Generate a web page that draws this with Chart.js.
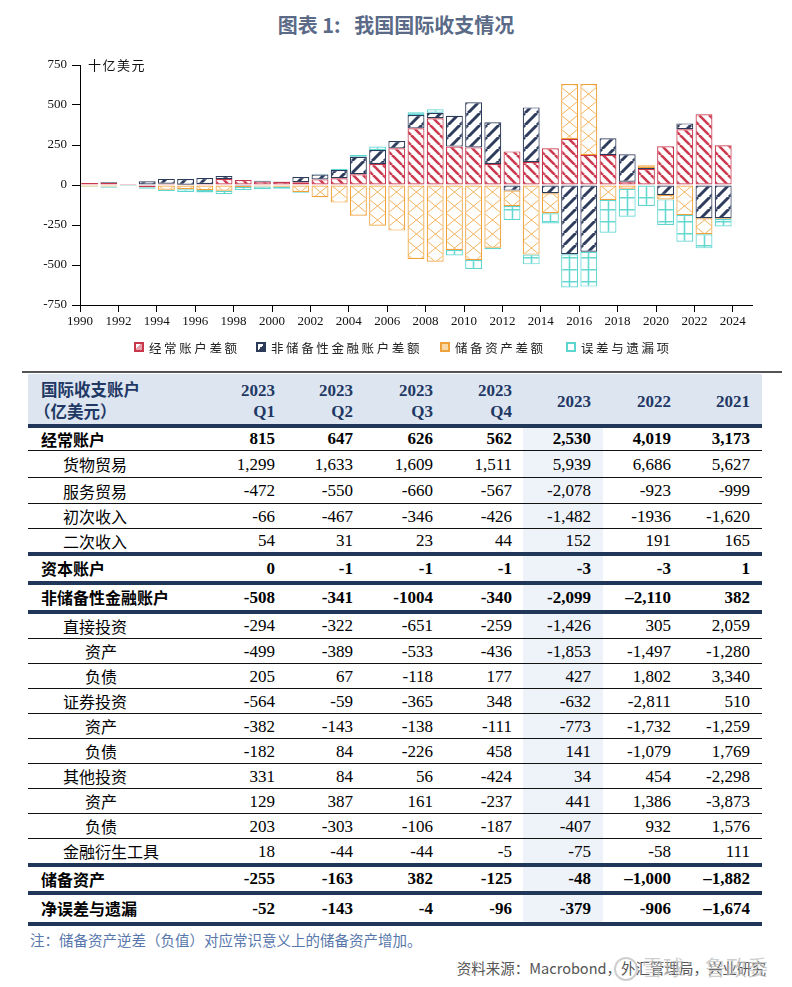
<!DOCTYPE html>
<html>
<head>
<meta charset="utf-8">
<script src="https://cdn.jsdelivr.net/npm/chart.js@4.4.1/dist/chart.umd.min.js"></script>
<style>
  html,body{margin:0;padding:0;background:#fff;}
  body{width:792px;height:987px;position:relative;overflow:hidden;font-family:"Noto Sans CJK SC",sans-serif;}
  #title{position:absolute;left:0;top:11px;width:792px;text-align:center;font-size:20px;line-height:28px;font-weight:bold;color:#5A6A87;white-space:pre;}
  #chartBox{position:absolute;left:0;top:50px;width:792px;height:290px;}
  #unit{position:absolute;left:88px;top:56px;font-size:13px;line-height:18px;letter-spacing:1.5px;color:#111;}
  .lg{position:absolute;top:339px;height:16px;display:flex;align-items:center;font-size:12.5px;letter-spacing:2.6px;color:#222;white-space:nowrap;}
  .lg i{display:inline-block;width:6px;height:6px;border:2px solid;margin-right:5px;background:#fff;}
  .abs{position:absolute;}
  .txt{position:absolute;display:flex;align-items:center;white-space:nowrap;line-height:1;}
  .num{font-family:"Liberation Serif","Times New Roman",serif;font-size:17px;color:#000;justify-content:flex-end;}
  .lab{font-family:"Noto Sans CJK SC",sans-serif;font-size:16px;color:#000;}
  .hd{color:#1F3864;font-weight:bold;}
  #note{position:absolute;left:30px;top:930px;font-size:14.5px;line-height:20px;color:#5877AC;white-space:nowrap;}
  #src{position:absolute;right:26px;top:958px;font-size:14.5px;line-height:20px;color:#555;white-space:nowrap;}
  #wm{position:absolute;left:614px;top:952px;font-size:21px;line-height:28px;color:rgba(190,190,190,0.75);white-space:nowrap;}
  #wm b{display:inline-block;width:20px;height:20px;border:2px solid rgba(190,190,190,0.75);border-radius:50%;vertical-align:middle;margin-right:4px;}
</style>
</head>
<body>
<div id="title">图表 1:   我国国际收支情况</div>
<div id="chartBox"><canvas id="c" width="792" height="290"></canvas></div>
<div id="unit">十亿美元</div>
<div id="legend"></div>
<div id="table"></div>
<div id="note">注：储备资产逆差（负值）对应常识意义上的储备资产增加。</div>
<div id="src">资料来源：Macrobond，外汇管理局，兴业研究</div>
<div id="wm"><b></b>雪球：鲁政委</div>
<script>
// ---------------- chart data (billions USD) ----------------
const years = [1990,1991,1992,1993,1994,1995,1996,1997,1998,1999,2000,2001,2002,2003,2004,2005,2006,2007,2008,2009,2010,2011,2012,2013,2014,2015,2016,2017,2018,2019,2020,2021,2022,2023];
const currentAccount   = [12,13,6,-12,8,2,7,37,31,21,20,17,35,42,67,131,229,354,417,240,235,131,210,144,229,288,188,188,21,100,242,348,442,248];
const financialAccount = [-3,4,-2,23,30,35,37,19,-6,5,2,33,30,52,110,88,46,83,35,193,282,261,-35,341,-52,-433,-417,104,171,7,-62,37,-208,-208];
const reserveAssets    = [-6,-10,0,-2,-30,-26,-32,-36,-6,-9,-11,-44,-77,-110,-192,-254,-285,-462,-479,-406,-469,-392,-96,-435,-125,343,443,-94,-23,16,-28,-188,-100,-5];
const errorsOmissions  = [-3,-7,-2,-10,-8,-18,-15,-22,-19,-18,-12,-5,6,8,11,21,0,17,21,-34,-56,-10,-88,-61,-63,-207,-218,-204,-175,-131,-160,-166,-88,-46];
const seriesLabels = ['经常账户差额','非储备性金融账户差额','储备资产差额','误差与遗漏项'];
const xTickYears = [1990,1992,1994,1996,1998,2000,2002,2004,2006,2008,2010,2012,2014,2016,2018,2020,2022,2024];
const yTickValues = [-750,-500,-250,0,250,500,750];

// ---------------- table data (亿美元) ----------------
const tableHeadTop = ['2023','2023','2023','2023','','',''];
const tableHeadBottom = ['Q1','Q2','Q3','Q4','2023','2022','2021'];
const rowLabels = ['经常账户','货物贸易','服务贸易','初次收入','二次收入','资本账户','非储备性金融账户','直接投资','资产','负债','证券投资','资产','负债','其他投资','资产','负债','金融衍生工具','储备资产','净误差与遗漏'];
const rowLevel  = [0,1,1,1,1,0,0,1,2,2,1,2,2,1,2,2,1,0,0];
const rowBold   = [1,0,0,0,0,1,1,0,0,0,0,0,0,0,0,0,0,1,1];
const col2023Q1 = ['815','1,299','-472','-66','54','0','-508','-294','-499','205','-564','-382','-182','331','129','203','18','-255','-52'];
const col2023Q2 = ['647','1,633','-550','-467','31','-1','-341','-322','-389','67','-59','-143','84','84','387','-303','-44','-163','-143'];
const col2023Q3 = ['626','1,609','-660','-346','23','-1','-1004','-651','-533','-118','-365','-138','-226','56','161','-106','-44','382','-4'];
const col2023Q4 = ['562','1,511','-567','-426','44','-1','-340','-259','-436','177','348','-111','458','-424','-237','-187','-5','-125','-96'];
const col2023   = ['2,530','5,939','-2,078','-1,482','152','-3','-2,099','-1,426','-1,853','427','-632','-773','141','34','441','-407','-75','-48','-379'];
const col2022   = ['4,019','6,686','-923','-1936','191','-3','–2,110','305','-1,497','1,802','-2,811','-1,732','-1,079','454','1,386','932','-58','–1,000','-906'];
const col2021   = ['3,173','5,627','-999','-1,620','165','1','382','2,059','-1,280','3,340','510','-1,259','1,769','-2,298','-3,873','1,576','111','–1,882','–1,674'];
const tableColumns = [col2023Q1,col2023Q2,col2023Q3,col2023Q4,col2023,col2022,col2021];

// ---------------- styles ----------------
const RED='#C8364B', NAVY='#2D3B5B', ORANGE='#EFA23C', CYAN='#5ED5CF';

function tile(w,h,draw){
  const c=document.createElement('canvas'); c.width=w; c.height=h;
  const g=c.getContext('2d'); g.fillStyle='#fff'; g.fillRect(0,0,w,h); draw(g,w,h); return c;
}
const redTile = tile(10,10,(g)=>{g.strokeStyle='#CC3A50';g.lineWidth=2.6;for(const o of [-10,0,10]){g.beginPath();g.moveTo(o,0);g.lineTo(o+10,10);g.stroke();}});
const navyTile = tile(12,12,(g)=>{g.strokeStyle='#2E3C5E';g.lineWidth=3;for(const o of [-12,0,12]){g.beginPath();g.moveTo(o,12);g.lineTo(o+12,0);g.stroke();}});
const orangeTile = tile(17,14,(g)=>{g.strokeStyle='#F2B35E';g.lineWidth=1;g.beginPath();g.moveTo(0,0);g.lineTo(17,14);g.moveTo(17,0);g.lineTo(0,14);g.stroke();});
const cyanTile = tile(17,12,(g)=>{g.strokeStyle='#66D8D2';g.lineWidth=1.6;g.beginPath();g.moveTo(8.5,0);g.lineTo(8.5,12);g.moveTo(0,0.8);g.lineTo(17,0.8);g.stroke();});

function barPattern(t, fallback){
  return function(c){
    const ch=c.chart;
    if(c.type!=='data' || !ch.scales || !ch.scales.x || !ch.scales.y) return fallback;
    const px = ch.scales.x.getPixelForValue(c.raw.x) - t.width/2;
    const py = ch.scales.y.getPixelForValue(0);
    const p = ch.ctx.createPattern(t,'repeat');
    p.setTransform(new DOMMatrix().translateSelf(Math.round(px), Math.round(py)));
    return p;
  };
}

const seriesValues=[currentAccount,financialAccount,reserveAssets,errorsOmissions];
const seriesTiles=[redTile,navyTile,orangeTile,cyanTile];
const seriesColors=[RED,NAVY,ORANGE,CYAN];

const datasets = seriesValues.map((vals,k)=>({
  label: seriesLabels[k],
  data: years.map((yr,i)=>({x: yr+0.5, y: vals[i]})),
  backgroundColor: barPattern(seriesTiles[k], seriesColors[k]),
  borderColor: seriesColors[k],
  borderWidth: 1.2,
  borderSkipped: false,
  barPercentage: 0.88,
  categoryPercentage: 1.0
}));

const serif = '"Liberation Serif","Times New Roman",serif';
new Chart(document.getElementById('c'), {
  type:'bar',
  data:{datasets},
  options:{
    responsive:false, animation:false, devicePixelRatio:1,
    layout:{padding:{top:15,right:40,left:0,bottom:0}},
    plugins:{legend:{display:false},tooltip:{enabled:false}},
    scales:{
      x:{type:'linear',min:1990,max:2025,stacked:true,offset:false,
         afterBuildTicks:(s)=>{s.ticks=xTickYears.map(v=>({value:v}));},
         afterFit:(s)=>{s.height=35;},
         ticks:{callback:(v)=>String(v),font:{family:serif,size:13},color:'#111',padding:2,maxRotation:0,autoSkip:false},
         grid:{offset:false,drawOnChartArea:false,drawTicks:true,tickLength:7,tickColor:'#000',color:'#000'},
         border:{display:true,color:'#000',width:1}},
      y:{type:'linear',min:-750,max:750,stacked:true,
         afterBuildTicks:(s)=>{s.ticks=yTickValues.map(v=>({value:v}));},
         afterFit:(s)=>{s.width=80;},
         ticks:{callback:(v)=>String(v),font:{family:serif,size:13},color:'#111',padding:5},
         grid:{drawOnChartArea:false,drawTicks:true,tickLength:8,tickColor:'#000',color:'#000'},
         border:{display:true,color:'#000',width:1}}
    }
  }
});

// ---------------- HTML legend ----------------
const legendPos=[134,256,440,566];
const legendBg=['linear-gradient(135deg,#fff 40%,#e7a0aa 40%)','linear-gradient(135deg,#fff 50%,#2D3B5B 50%)','#f8d8a8','#fff'];
const lg=document.getElementById('legend');
seriesLabels.forEach((s,k)=>{
  const d=document.createElement('div'); d.className='lg';
  d.style.left=legendPos[k]+'px';
  d.innerHTML='<i style="border-color:'+seriesColors[k]+';background:'+legendBg[k]+'"></i><span>'+s+'</span>';
  lg.appendChild(d);
});

// ---------------- table ----------------
const T=document.getElementById('table');
function add(html){T.insertAdjacentHTML('beforeend',html);}
const L=28, R=762;
add('<div class="abs" style="left:22px;top:371px;width:760px;height:1.5px;background:#555"></div>');
add('<div class="abs" style="left:'+L+'px;top:374px;width:'+(R-L)+'px;height:50px;background:#DCE5F0"></div>');
const lines=[[424,3.5],[450,1],[477,1],[503,1],[528,1],[552,3.5],[581,3.5],[610,3.5],[638,1],[663,1],[688,1],[713,1],[738,1],[763,1],[788,1],[813,1],[838,1],[863,3.5],[891,3.5],[922,3.5]];
add('<div class="abs" style="left:523px;top:427px;width:80px;height:495px;background:#EEF2F9"></div>');
lines.forEach(([y,h])=>{
  add('<div class="abs" style="left:'+L+'px;top:'+y+'px;width:'+(R-L)+'px;height:'+h+'px;background:'+(h>2?'#21375A':'#111')+'"></div>');
});
const rights=[275,353,433,512,591,671,750];
add('<div class="txt lab hd" style="left:41px;top:378px;height:22px;font-size:16.5px">国际收支账户</div>');
add('<div class="txt lab hd" style="left:34px;top:400px;height:22px;font-size:16.5px">（亿美元）</div>');
tableHeadBottom.forEach((b,j)=>{
  const w=90, left=rights[j]-w;
  if(tableHeadTop[j]){
    add('<div class="txt num hd" style="left:'+left+'px;width:'+w+'px;top:379px;height:22px">'+tableHeadTop[j]+'</div>');
    add('<div class="txt num hd" style="left:'+left+'px;width:'+w+'px;top:400px;height:22px">'+b+'</div>');
  } else {
    add('<div class="txt num hd" style="left:'+left+'px;width:'+w+'px;top:389px;height:24px">'+b+'</div>');
  }
});
rowLabels.forEach((lab,i)=>{
  const top=lines[i][0]+lines[i][1], bot=lines[i+1][0], h=bot-top;
  const bold=rowBold[i]?'font-weight:bold;':'';
  add('<div class="txt lab" style="left:'+(41+rowLevel[i]*22)+'px;top:'+top+'px;height:'+h+'px;'+bold+'">'+lab+'</div>');
  tableColumns.forEach((col,j)=>{
    const w=90;
    add('<div class="txt num" style="left:'+(rights[j]-w)+'px;width:'+w+'px;top:'+top+'px;height:'+h+'px;'+bold+'">'+col[i]+'</div>');
  });
});
</script>
</body>
</html>
